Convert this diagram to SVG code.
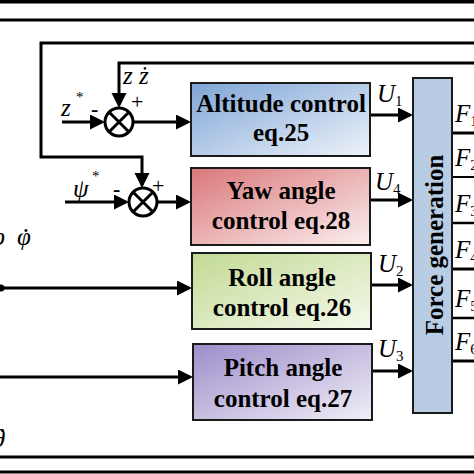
<svg xmlns="http://www.w3.org/2000/svg" width="474" height="474" viewBox="0 0 474 474">
<style>
.ln{fill:none;stroke:#000;stroke-width:3}
.arr{fill:none;stroke:#000;stroke-width:3;marker-end:url(#ah)}
.box{stroke:#1a1a1a;stroke-width:2}
.bt{font-family:"Liberation Serif",serif;font-weight:bold;font-size:25px;fill:#000;text-anchor:middle}
.m{font-family:"Liberation Serif",serif;font-style:italic;font-size:25px;fill:#000}
.sub{font-family:"Liberation Serif",serif;font-size:15px;fill:#000}
.sg{font-family:"Liberation Serif",serif;font-size:22px;fill:#000}
.sum{fill:#fff;stroke:#000;stroke-width:3}
</style>
<defs>
<marker id="ah" markerWidth="16" markerHeight="16" refX="12" refY="7.5" orient="auto" markerUnits="userSpaceOnUse"><path d="M0,0 L15,7.5 L0,15 Z" fill="#000"/></marker>
<linearGradient id="gA" x1="0" y1="0" x2="1" y2="1"><stop offset="0" stop-color="#7ea5d6"/><stop offset="1" stop-color="#eef3fa"/></linearGradient>
<linearGradient id="gY" x1="0" y1="0" x2="1" y2="1"><stop offset="0" stop-color="#d9777a"/><stop offset="1" stop-color="#fbefef"/></linearGradient>
<linearGradient id="gR" x1="0" y1="0" x2="1" y2="1"><stop offset="0" stop-color="#c2da94"/><stop offset="1" stop-color="#f5f9ec"/></linearGradient>
<linearGradient id="gP" x1="0" y1="0" x2="1" y2="1"><stop offset="0" stop-color="#9d8dca"/><stop offset="1" stop-color="#f1eef7"/></linearGradient>
</defs>
<rect width="474" height="474" fill="#fff"/>

<g id="connectors">
<line x1="0" y1="1.5" x2="474" y2="1.5" stroke="#000" stroke-width="4"/>
<line class="ln" x1="0" y1="20" x2="474" y2="20"/>
<line class="ln" x1="0" y1="457" x2="474" y2="457"/>
<line class="ln" x1="0" y1="472" x2="474" y2="472"/>
<path class="arr" d="M474,43 H41 V157 H142 V185"/>
<path class="arr" d="M474,63 H119 V105"/>
<path class="arr" d="M62,122 H102"/>
<path class="arr" d="M133,122 H188"/>
<path class="arr" d="M65,202 H126"/>
<path class="arr" d="M157,202 H188"/>
<path class="arr" d="M0,288 H189"/>
<circle cx="1" cy="288" r="3.5" fill="#000"/>
<path class="arr" d="M0,377 H190"/>
<path class="arr" d="M370,115 H410"/>
<path class="arr" d="M370,200 H410"/>
<path class="arr" d="M371,285 H410"/>
<path class="arr" d="M372,371 H410"/>
<line x1="452" y1="133" x2="474" y2="133" stroke="#000" stroke-width="3"/>
<line x1="452" y1="177" x2="474" y2="177" stroke="#000" stroke-width="2"/>
<line x1="452" y1="223" x2="474" y2="223" stroke="#000" stroke-width="2.5"/>
<line x1="452" y1="269" x2="474" y2="269" stroke="#000" stroke-width="3"/>
<line x1="452" y1="318" x2="474" y2="318" stroke="#000" stroke-width="2.5"/>
<line x1="452" y1="361" x2="474" y2="361" stroke="#000" stroke-width="3"/>
</g>

<g id="sum1">
<circle class="sum" cx="119" cy="122" r="14"/>
<path d="M109,112 L129,132 M129,112 L109,132" stroke="#000" stroke-width="3"/>
<text class="m" x="61" y="116">z</text><text class="sub" x="76" y="102">*</text>
<text class="sg" x="91" y="116" font-weight="bold">-</text>
<text class="sg" x="131" y="109">+</text>
<text class="m" x="123" y="84" font-size="22">z ż</text>
</g>

<g id="sum2">
<circle class="sum" cx="143" cy="202" r="14"/>
<path d="M133,192 L153,212 M153,192 L133,212" stroke="#000" stroke-width="3"/>
<text class="m" x="73" y="197">ψ</text><text class="sub" x="92" y="181">*</text>
<text class="sg" x="113" y="196" font-weight="bold">-</text>
<text class="sg" x="152" y="193">+</text>
</g>

<g id="altitude">
<rect class="box" x="191" y="83" width="179" height="73" fill="url(#gA)"/>
<text class="bt" x="281" y="112">Altitude control</text>
<text class="bt" x="281" y="141">eq.25</text>
<text class="m" x="377" y="102">U<tspan class="sub" dy="4" font-style="normal">1</tspan></text>
</g>

<g id="yaw">
<rect class="box" x="191" y="168" width="179" height="77" fill="url(#gY)"/>
<text class="bt" x="281" y="199">Yaw angle</text>
<text class="bt" x="281" y="229">control eq.28</text>
<text class="m" x="375" y="190">U<tspan class="sub" dy="4" font-style="normal">4</tspan></text>
</g>

<g id="roll">
<rect class="box" x="192" y="253" width="179" height="76" fill="url(#gR)"/>
<text class="bt" x="282" y="286">Roll angle</text>
<text class="bt" x="282" y="316">control eq.26</text>
<text class="m" x="378" y="272">U<tspan class="sub" dy="4" font-style="normal">2</tspan></text>
</g>

<g id="pitch">
<rect class="box" x="193" y="344" width="179" height="76" fill="url(#gP)"/>
<text class="bt" x="283" y="376">Pitch angle</text>
<text class="bt" x="283" y="407">control eq.27</text>
<text class="m" x="378" y="357">U<tspan class="sub" dy="4" font-style="normal">3</tspan></text>
</g>

<g id="force">
<rect class="box" x="413" y="78" width="39" height="335" fill="#b8cce4"/>
<text class="bt" transform="translate(443,245) rotate(-90)" x="0" y="0">Force generation</text>
</g>

<g id="outputs">
<text class="m" x="455" y="122" font-size="24">F<tspan class="sub" dy="4" font-style="normal">1</tspan></text>
<text class="m" x="455" y="166" font-size="24">F<tspan class="sub" dy="4" font-style="normal">2</tspan></text>
<text class="m" x="455" y="212" font-size="24">F<tspan class="sub" dy="4" font-style="normal">3</tspan></text>
<text class="m" x="455" y="258" font-size="24">F<tspan class="sub" dy="4" font-style="normal">4</tspan></text>
<text class="m" x="455" y="307" font-size="24">F<tspan class="sub" dy="4" font-style="normal">5</tspan></text>
<text class="m" x="455" y="350" font-size="24">F<tspan class="sub" dy="4" font-style="normal">6</tspan></text>
</g>

<g id="left-labels">
<text class="m" x="-9" y="245" font-size="24">φ</text>
<text class="m" x="17" y="245" font-size="24">φ<tspan dx="-8" dy="-13" font-style="normal">.</tspan></text>
<text class="m" x="-7" y="447" font-size="24">θ<tspan dx="-6" dy="-15" font-style="normal">.</tspan></text>
</g>
</svg>
